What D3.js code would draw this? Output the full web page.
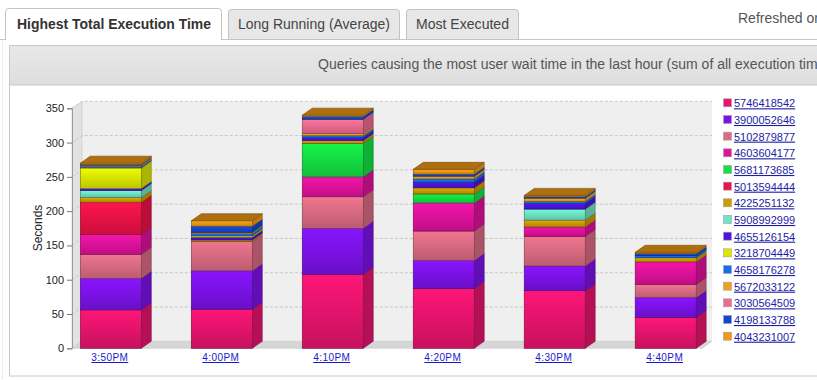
<!DOCTYPE html>
<html>
<head>
<meta charset="utf-8">
<script src="https://cdn.jsdelivr.net/npm/d3@7"></script>
<style>
  html, body { margin: 0; padding: 0; background: #fff; overflow: hidden; }
  svg { display: block; font-family: "Liberation Sans", Arial, sans-serif; }
</style>
</head>
<body>
<svg id="chart" width="817" height="380"></svg>
<script>
// ---------------- DATA ----------------
const times = ["3:50PM", "4:00PM", "4:10PM", "4:20PM", "4:30PM", "4:40PM"];
const seriesIds = ["5746418542", "3900052646", "5102879877", "4603604177", "5681173685",
  "5013594444", "4225251132", "5908992999", "4655126154", "3218704449",
  "4658176278", "5672033122", "3030564509", "4198133788", "4043231007"];
const seriesColors = ["#e8146e", "#7c12ea", "#dc6c84", "#e0129c", "#14e044",
  "#ee1248", "#d09c00", "#6ee6c6", "#5012e0", "#dce800",
  "#1270ee", "#f0a020", "#ee6c90", "#1046d6", "#f09a14"];
const v5746418542 = [56, 57, 108, 87, 84, 45];
const v3900052646 = [46, 56, 67, 41, 36, 29];
const v5102879877 = [35, 43, 46, 43, 43, 19];
const v4603604177 = [29, 0, 29, 41, 14, 33];
const v5681173685 = [0, 0, 49, 13, 0, 0];
const v5013594444 = [47, 0, 0, 0, 0, 0];
const v4225251132 = [7, 2, 4, 9, 10, 6];
const v5908992999 = [10, 0, 0, 0, 16, 0];
const v4655126154 = [3, 4, 4, 8, 8, 0];
const v3218704449 = [30, 2, 0, 0, 0, 0];
const v4658176278 = [2, 3, 3, 5, 3, 3];
const v5672033122 = [2, 2, 3, 4, 5, 0];
const v3030564509 = [0, 0, 21, 0, 0, 0];
const v4198133788 = [1, 9, 4, 3, 2, 3];
const v4043231007 = [2, 8, 2, 7, 2, 2];
const yTicks = [0, 50, 100, 150, 200, 250, 300, 350];

const seriesValues = [v5746418542, v3900052646, v5102879877, v4603604177, v5681173685,
  v5013594444, v4225251132, v5908992999, v4655126154, v3218704449,
  v4658176278, v5672033122, v3030564509, v4198133788, v4043231007];

// ---------------- LAYOUT ----------------
const svg = d3.select("#chart");
const W = 817, H = 380;
const DX = 10, DY = -7;           // 3D depth offset
const plotLeft = 72, plotRight = 702;

const x = d3.scaleBand().domain(times).range([47, 729.5]).paddingInner(0.45).paddingOuter(0.3);
const y = d3.scaleLinear().domain([0, 350]).range([348.3, 108.3]);

const defs = svg.append("defs");

// background
svg.append("rect").attr("width", W).attr("height", H).attr("fill", "#fff");
// faint page edge
svg.append("line").attr("x1", 2.5).attr("x2", 2.5).attr("y1", 40).attr("y2", 380)
  .attr("stroke", "#d8d8d8").attr("stroke-dasharray", "1,1");

// ---------------- TABS ----------------
svg.append("line").attr("x1", 0).attr("x2", W).attr("y1", 39.5).attr("y2", 39.5).attr("stroke", "#c6c6c6");
const tabs = [
  {label: "Highest Total Execution Time", x: 5, w: 217, active: true, tx: 17, tw: 194},
  {label: "Long Running (Average)", x: 228, w: 172, active: false, tx: 238, tw: 152},
  {label: "Most Executed", x: 406, w: 113, active: false, tx: 416, tw: 93}
];
tabs.forEach(t => {
  const top = t.active ? 8.5 : 9.5;
  const bottom = t.active ? 40 : 39.5;
  svg.append("path")
    .attr("d", `M${t.x + 0.5},${bottom} L${t.x + 0.5},${top + 3} Q${t.x + 0.5},${top} ${t.x + 3.5},${top} L${t.x + t.w - 3.5},${top} Q${t.x + t.w - 0.5},${top} ${t.x + t.w - 0.5},${top + 3} L${t.x + t.w - 0.5},${bottom}` + (t.active ? "" : " Z"))
    .attr("fill", t.active ? "#fff" : "#e7e7e7")
    .attr("stroke", "#c2c2c2");
  svg.append("text").attr("x", t.tx).attr("y", 29)
    .attr("font-size", 14).attr("font-weight", t.active ? "bold" : "normal")
    .attr("fill", t.active ? "#333" : "#444")
    .attr("textLength", t.tw).attr("lengthAdjust", "spacingAndGlyphs")
    .text(t.label);
});
svg.append("text").attr("x", 738).attr("y", 23).attr("font-size", 14).attr("fill", "#555")
  .text("Refreshed on");

// ---------------- PANEL ----------------
const hdrGrad = defs.append("linearGradient").attr("id", "hdr").attr("x1", 0).attr("y1", 0).attr("x2", 0).attr("y2", 1);
hdrGrad.append("stop").attr("offset", "0%").attr("stop-color", "#e8e8e8");
hdrGrad.append("stop").attr("offset", "100%").attr("stop-color", "#dedede");
svg.append("rect").attr("x", 9.5).attr("y", 45.5).attr("width", 830).attr("height", 330.5)
  .attr("fill", "#fff").attr("stroke", "#c8c8c8");
svg.append("rect").attr("x", 9.5).attr("y", 45.5).attr("width", 830).attr("height", 39.5)
  .attr("fill", "url(#hdr)").attr("stroke", "#c8c8c8");
svg.append("text").attr("x", 318).attr("y", 69).attr("font-size", 14).attr("fill", "#555")
  .text("Queries causing the most user wait time in the last hour (sum of all execution times)");

// ---------------- 3D PLOT FRAME ----------------
const y0 = y(0), yTop = y(350);
// back wall
svg.append("rect").attr("x", plotLeft + DX).attr("y", yTop + DY).attr("width", plotRight - plotLeft)
  .attr("height", y0 - yTop).attr("fill", "#efefef");
// left wall
svg.append("path").attr("d", `M${plotLeft},${y0} L${plotLeft},${yTop} L${plotLeft + DX},${yTop + DY} L${plotLeft + DX},${y0 + DY} Z`)
  .attr("fill", "#e2e2e2").attr("stroke", "#c8c8c8").attr("stroke-width", 0.6);
// floor
svg.append("path").attr("d", `M${plotLeft},${y0} L${plotRight},${y0} L${plotRight + DX},${y0 + DY} L${plotLeft + DX},${y0 + DY} Z`)
  .attr("fill", "#d6d6d6").attr("stroke", "#c8c8c8").attr("stroke-width", 0.6);
// grid lines
yTicks.forEach(t => {
  const yy = y(t);
  if (t > 0) {
    svg.append("path").attr("d", `M${plotLeft},${yy} L${plotLeft + DX},${yy + DY} L${plotRight + DX},${yy + DY}`)
      .attr("fill", "none").attr("stroke", "#bdbdbd").attr("stroke-width", 0.8).attr("stroke-dasharray", "3,2");
  }
});
// front axis
const axis = d3.axisLeft(y).tickValues(yTicks).tickSize(5).tickPadding(3);
const ax = svg.append("g").attr("transform", `translate(${plotLeft},0)`).call(axis);
ax.select(".domain").attr("stroke", "#9a9a9a");
ax.selectAll(".tick line").attr("stroke", "#777");
ax.selectAll(".tick text").attr("font-size", 11).attr("fill", "#222")
  .attr("font-family", "'Liberation Sans', Arial, sans-serif");

svg.append("text").attr("transform", "translate(42,228) rotate(-90)")
  .attr("text-anchor", "middle").attr("font-size", 12).attr("fill", "#222").text("Seconds");

// ---------------- BARS ----------------
seriesColors.forEach((c, i) => {
  const g = defs.append("linearGradient").attr("id", "g" + i).attr("x1", 0).attr("y1", 0).attr("x2", 0).attr("y2", 1);
  g.append("stop").attr("offset", "0%").attr("stop-color", d3.color(c).brighter(0.25));
  g.append("stop").attr("offset", "100%").attr("stop-color", d3.color(c).darker(0.45));
});

const stackData = times.map((t, j) => {
  const row = {time: t};
  seriesIds.forEach((id, i) => row[id] = seriesValues[i][j]);
  return row;
});
const stacked = d3.stack().keys(seriesIds)(stackData);

const barsG = svg.append("g");
times.forEach((t, j) => {
  const bx = x(t), bw = x.bandwidth();
  const bg = barsG.append("g");
  let topIdx = -1;
  stacked.forEach((s, i) => { if (s[j][1] - s[j][0] > 0) topIdx = i; });
  stacked.forEach((s, i) => {
    const v0 = s[j][0], v1 = s[j][1];
    if (v1 - v0 <= 0) return;
    const yb = y(v0), yt = y(v1);
    const col = d3.color(seriesColors[i]);
    // side face
    bg.append("path")
      .attr("d", `M${bx + bw},${yb} L${bx + bw},${yt} L${bx + bw + DX},${yt + DY} L${bx + bw + DX},${yb + DY} Z`)
      .attr("fill", col.darker(0.7)).attr("stroke", col.darker(1.8)).attr("stroke-width", 0.5);
    // front face
    bg.append("rect").attr("x", bx).attr("y", yt).attr("width", bw).attr("height", yb - yt)
      .attr("fill", `url(#g${i})`).attr("stroke", col.darker(1.8)).attr("stroke-width", 0.6);
    if (i === topIdx) {
      bg.append("path")
        .attr("d", `M${bx},${yt} L${bx + DX},${yt + DY} L${bx + bw + DX},${yt + DY} L${bx + bw},${yt} Z`)
        .attr("fill", col.darker(0.9)).attr("stroke", col.darker(2)).attr("stroke-width", 0.6);
    }
  });
});

// x labels
svg.append("g").selectAll("text").data(times).join("text")
  .attr("x", d => x(d) + x.bandwidth() / 2 - 1)
  .attr("y", 361)
  .attr("text-anchor", "middle")
  .attr("font-size", 10).attr("letter-spacing", 0.4)
  .attr("fill", "#1a1acc").attr("text-decoration", "underline")
  .text(d => d);

// ---------------- LEGEND ----------------
const leg = svg.append("g");
seriesIds.forEach((id, i) => {
  const cy = 103.3 + i * 16.67;
  leg.append("rect").attr("x", 723.5).attr("y", cy - 4.5).attr("width", 8).attr("height", 8)
    .attr("fill", seriesColors[i]).attr("stroke", "#a0a0a0").attr("stroke-width", 0.6);
  leg.append("text").attr("x", 734).attr("y", cy + 4)
    .attr("font-size", 11).attr("fill", "#1c1ca6").attr("text-decoration", "underline")
    .text(id);
});
</script>
</body>
</html>
